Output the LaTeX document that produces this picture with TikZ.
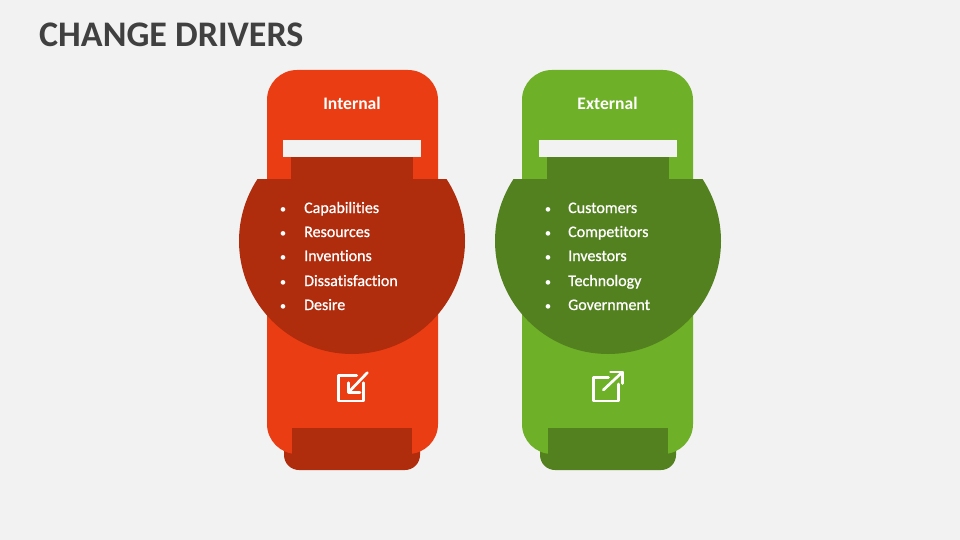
\documentclass[tikz,border=0pt]{standalone}
\usepackage{fontspec}
\setmainfont[Ligatures=NoCommon]{Carlito}
\newfontfamily\itemfont[Ligatures=NoCommon,FakeBold=0.9]{Carlito}
\definecolor{bgc}{HTML}{F2F2F2}
\definecolor{redL}{HTML}{EB3D13}
\definecolor{redD}{HTML}{AF2C0D}
\definecolor{grnL}{HTML}{6EB027}
\definecolor{grnD}{HTML}{53811F}
\definecolor{ttl}{HTML}{404040}
\tikzset{
  item/.style={anchor=base west,inner sep=0pt,text=white,font=\fontsize{16}{18}\selectfont\itemfont},
  bul/.style={anchor=base,inner sep=0pt,text=white,font=\fontsize{13}{18}\selectfont},
  head/.style={anchor=base,inner sep=0pt,text=white,font=\fontsize{17.6}{20}\selectfont\bfseries},
  icon/.style={draw=white,line width=2.7pt,line join=round,line cap=round}
}
\newcommand{\driver}[4]{%
  % #1 = left x of body, #2 light colour, #3 dark colour, #4 inner offset
  \begin{scope}[shift={(#1,0)}]
    \fill[#3,rounded corners=15pt] (17+#4,420) rectangle (153+#4,470);
    \fill[#2,rounded corners=30pt] (0,70) rectangle (171,454);
    \fill[#3] (25+#4,428) rectangle (145+#4,458);
    \fill[bgc] (16+#4,140) rectangle (154+#4,157);
    \fill[#3] (24+#4,157) rectangle (146+#4,180);
    \begin{scope}
      \clip (-40,179.4) rectangle (210,360);
      \fill[#3] (85+#4,241) circle (113pt);
    \end{scope}
  \end{scope}}
\begin{document}
\begin{tikzpicture}[x=1pt,y=-1pt]
\useasboundingbox (0,0) rectangle (960,540);
\fill[bgc] (0,0) rectangle (960,540);
\node[anchor=base west,inner sep=0pt,text=ttl,font=\fontsize{36}{40}\selectfont\bfseries] (title) at (39,46.5) {CHANGE DRIVERS};

\driver{267}{redL}{redD}{0}
\driver{522}{grnL}{grnD}{1}

\node[head] (int) at (352,110) {Internal};
\node[head] (ext) at (607.5,110) {External};

\foreach \n/\y/\t in {a/213/Capabilities,b/237/Resources,c/261/Inventions,d/286/Dissatisfaction,e/310/Desire}{
  \node[bul] (bi\n) at (283,\y) {•};
  \node[item] (ti\n) at (304,\y) {\t};
}
\foreach \n/\y/\t in {a/213/Customers,b/237/Competitors,c/261/Investors,d/286/Technology,e/310/Government}{
  \node[bul] (be\n) at (548,\y) {•};
  \node[item] (te\n) at (568,\y) {\t};
}

% import icon
\draw[icon] (356.7,375.4) -- (338.7,375.4) -- (338.7,401) -- (363.5,401) -- (363.5,382.7);
\draw[icon] (367.3,372.7) -- (348.5,392.3);
\draw[icon] (348.5,382.7) -- (348.5,392.3) -- (360,392.3);
% export icon
\draw[icon] (608.5,377.5) -- (593.3,377.5) -- (593.3,401) -- (618.5,401) -- (618.5,384);
\draw[icon] (603.3,390) -- (622.5,372);
\draw[icon] (610.5,372) -- (622.5,372) -- (622.5,383.5);
\end{tikzpicture}
\end{document}
